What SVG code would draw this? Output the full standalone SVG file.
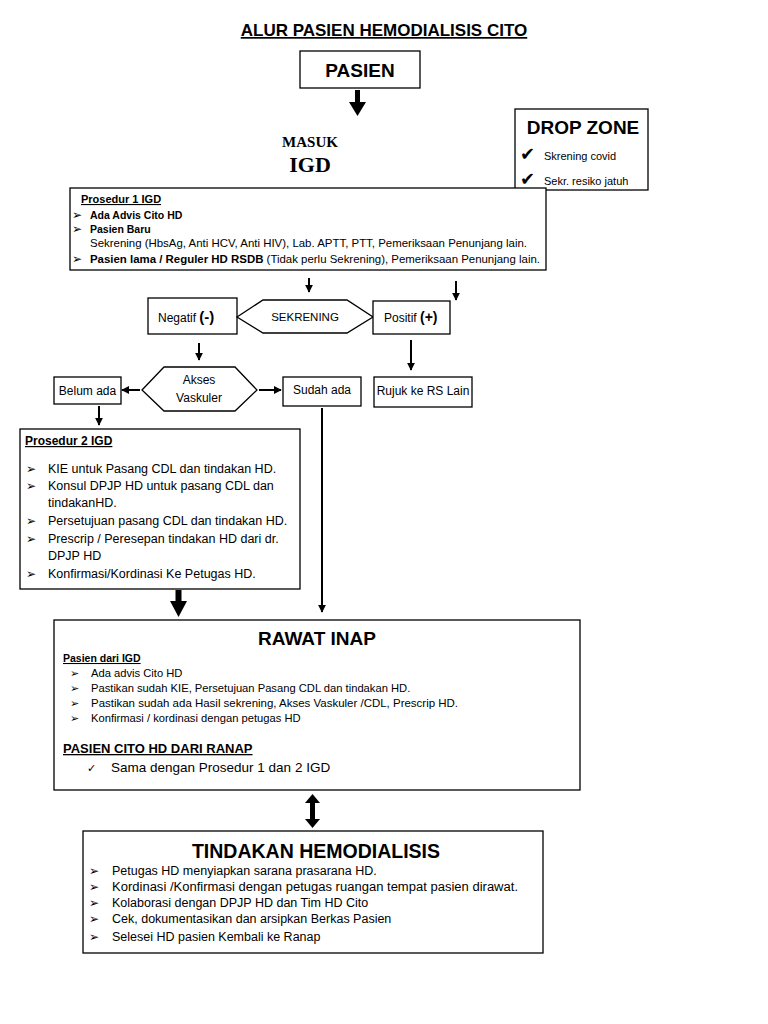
<svg xmlns="http://www.w3.org/2000/svg" width="768" height="1024" viewBox="0 0 768 1024">
<defs>
<style>
text{font-family:"Liberation Sans",Arial,sans-serif;fill:#000}
.box{fill:#fff;stroke:#000;stroke-width:1.3}
.b{font-weight:bold}
.u{text-decoration:underline}
.bul{font-family:"DejaVu Sans",sans-serif}
.ln{stroke:#000;stroke-width:2;fill:none}
.ser{font-family:"Liberation Serif","Times New Roman",serif;font-weight:bold}
</style>
<marker id="ah" viewBox="0 0 10 10" refX="9" refY="5" markerWidth="4" markerHeight="4" orient="auto" markerUnits="strokeWidth"><path d="M0,0L10,5L0,10z" fill="#000"/></marker>
</defs>
<rect width="768" height="1024" fill="#fff"/>
<text x="384" y="36" text-anchor="middle" class="b u" font-size="17">ALUR PASIEN HEMODIALISIS CITO</text>

<g id="pasien"><rect class="box" x="300" y="51" width="120" height="37" stroke-width="2"/><text x="360" y="77" text-anchor="middle" class="b" font-size="19">PASIEN</text></g>

<g id="masuk"><text x="310" y="147" text-anchor="middle" class="ser" font-size="15">MASUK</text><text x="310" y="172" text-anchor="middle" class="ser" font-size="22">IGD</text></g>

<g id="dropzone"><rect class="box" x="515" y="109" width="133" height="81" stroke-width="2"/><text x="583" y="134" text-anchor="middle" class="b" font-size="19">DROP ZONE</text>
<text x="520" y="160" class="bul" font-size="18">✔</text><text x="544" y="160" font-size="11">Skrening covid</text>
<text x="520" y="185" class="bul" font-size="18">✔</text><text x="544" y="185" font-size="11">Sekr.  resiko jatuh</text></g>

<g id="prosedur1"><rect class="box" x="70" y="188" width="476" height="82"/>
<text x="81" y="203" class="b u" font-size="11">Prosedur 1 IGD</text>
<text x="72" y="219" class="bul" font-size="12">➢</text><text x="90" y="219" class="b" font-size="10.5">Ada Advis Cito HD</text>
<text x="72" y="233" class="bul" font-size="12">➢</text><text x="90" y="233" class="b" font-size="10.5">Pasien Baru</text>
<text x="90" y="247" font-size="10.5" textLength="437" lengthAdjust="spacingAndGlyphs">Sekrening (HbsAg, Anti HCV, Anti HIV), Lab. APTT, PTT, Pemeriksaan Penunjang lain.</text>
<text x="72" y="263" class="bul" font-size="12">➢</text><text x="90" y="263" font-size="10.5" textLength="450" lengthAdjust="spacingAndGlyphs"><tspan class="b">Pasien lama / Reguler HD RSDB</tspan>  (Tidak perlu Sekrening), Pemeriksaan Penunjang lain.</text></g>

<g id="negatif"><rect class="box" x="148" y="298" width="89" height="36"/><text x="158" y="322" font-size="12">Negatif <tspan class="b" font-size="15">(-)</tspan></text></g>
<g id="sekrening"><polygon class="box" points="237,317 263,300 347,300 373,317 347,333 263,333"/><text x="305" y="321" text-anchor="middle" font-size="11.5">SEKRENING</text></g>
<g id="positif"><rect class="box" x="373" y="301" width="77" height="33"/><text x="384" y="322" font-size="12">Positif <tspan class="b" font-size="14">(+)</tspan></text></g>

<g id="akses"><polygon class="box" points="142,390 164,367 235,367 257,390 235,411 164,411"/><text x="199" y="384" text-anchor="middle" font-size="12">Akses</text><text x="199" y="402" text-anchor="middle" font-size="12">Vaskuler</text></g>
<g id="belum"><rect class="box" x="54" y="377" width="67" height="27"/><text x="87.5" y="395" text-anchor="middle" font-size="12">Belum ada</text></g>
<g id="sudah"><rect class="box" x="283" y="377" width="78" height="29"/><text x="322" y="394" text-anchor="middle" font-size="12">Sudah ada</text></g>
<g id="rujuk"><rect class="box" x="374" y="377" width="98" height="30"/><text x="423" y="395" text-anchor="middle" font-size="12">Rujuk ke RS Lain</text></g>

<g id="prosedur2"><rect class="box" x="20" y="429" width="280" height="160"/>
<text x="25" y="445" class="b u" font-size="12">Prosedur 2 IGD</text>
<g font-size="12.5">
<text x="26" y="473" class="bul" font-size="12">➢</text><text x="48" y="473">KIE untuk Pasang CDL dan tindakan HD.</text>
<text x="26" y="490" class="bul" font-size="12">➢</text><text x="48" y="490">Konsul  DPJP HD untuk pasang CDL dan</text>
<text x="48" y="507">tindakanHD.</text>
<text x="26" y="525" class="bul" font-size="12">➢</text><text x="48" y="525">Persetujuan pasang CDL dan tindakan HD.</text>
<text x="26" y="543" class="bul" font-size="12">➢</text><text x="48" y="543">Prescrip / Peresepan tindakan HD dari dr.</text>
<text x="48" y="560">DPJP HD</text>
<text x="26" y="578" class="bul" font-size="12">➢</text><text x="48" y="578">Konfirmasi/Kordinasi  Ke Petugas HD.</text>
</g></g>

<g id="rawatinap"><rect class="box" x="54" y="620" width="526" height="170" stroke-width="2"/>
<text x="317" y="645" text-anchor="middle" class="b" font-size="19">RAWAT INAP</text>
<text x="63" y="662" class="b u" font-size="10.5">Pasien dari IGD</text>
<g font-size="11.2">
<text x="70" y="677" class="bul" font-size="11">➢</text><text x="91" y="677">Ada advis Cito HD</text>
<text x="70" y="692" class="bul" font-size="11">➢</text><text x="91" y="692">Pastikan sudah KIE, Persetujuan Pasang CDL dan tindakan HD.</text>
<text x="70" y="707" class="bul" font-size="11">➢</text><text x="91" y="707" textLength="367" lengthAdjust="spacingAndGlyphs">Pastikan sudah ada Hasil sekrening,  Akses Vaskuler /CDL, Prescrip HD.</text>
<text x="70" y="722" class="bul" font-size="11">➢</text><text x="91" y="722">Konfirmasi / kordinasi dengan petugas HD</text>
</g>
<text x="63" y="753" class="b u" font-size="13">PASIEN CITO HD DARI RANAP</text>
<text x="87" y="772" class="bul" font-size="11">✓</text><text x="111" y="772" font-size="13.5">Sama dengan Prosedur 1 dan 2 IGD</text></g>

<g id="tindakan"><rect class="box" x="83" y="831" width="460" height="122" stroke-width="2"/>
<text x="316" y="858" text-anchor="middle" class="b" font-size="19.5">TINDAKAN HEMODIALISIS</text>
<g font-size="12.5">
<text x="89" y="875" class="bul" font-size="12">➢</text><text x="112" y="875">Petugas HD menyiapkan sarana prasarana HD.</text>
<text x="89" y="891" class="bul" font-size="12">➢</text><text x="112" y="891" textLength="406" lengthAdjust="spacingAndGlyphs">Kordinasi /Konfirmasi dengan petugas ruangan tempat pasien dirawat.</text>
<text x="89" y="907" class="bul" font-size="12">➢</text><text x="112" y="907">Kolaborasi dengan DPJP HD dan Tim HD Cito</text>
<text x="89" y="923" class="bul" font-size="12">➢</text><text x="112" y="923">Cek, dokumentasikan dan arsipkan Berkas Pasien</text>
<text x="89" y="941" class="bul" font-size="12">➢</text><text x="112" y="941">Selesei HD pasien Kembali ke Ranap</text>
</g></g>

<g id="connectors">
<rect x="355" y="90" width="5" height="13" fill="#000"/><polygon points="349,102 366,102 357.5,116" fill="#000"/>
<line class="ln" x1="309" y1="278" x2="309" y2="292" marker-end="url(#ah)"/>
<line class="ln" x1="456" y1="281" x2="456" y2="300" marker-end="url(#ah)"/>
<line class="ln" x1="199" y1="343" x2="199" y2="360" marker-end="url(#ah)"/>
<line class="ln" x1="411" y1="340" x2="411" y2="370" marker-end="url(#ah)"/>
<line class="ln" x1="140" y1="390" x2="122" y2="390" marker-end="url(#ah)"/>
<line class="ln" x1="259" y1="390" x2="281" y2="390" marker-end="url(#ah)"/>
<line class="ln" x1="99" y1="406" x2="99" y2="425" marker-end="url(#ah)"/>
<rect x="175.5" y="590" width="6" height="12" fill="#000"/><polygon points="170,601 187,601 178.5,617" fill="#000"/>
<line class="ln" x1="322" y1="408" x2="322" y2="612" marker-end="url(#ah)"/>
<rect x="310" y="801" width="5" height="20" fill="#000"/><polygon points="305,803 320,803 312.5,794" fill="#000"/><polygon points="305,819 320,819 312.5,828" fill="#000"/>
</g>
</svg>
